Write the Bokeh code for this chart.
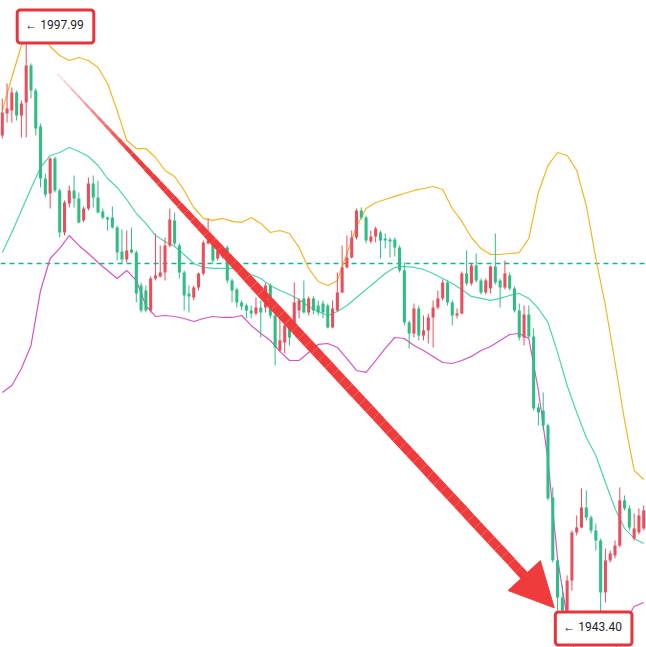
from bokeh.plotting import figure
from bokeh.models import Range1d, Label, Arrow, NormalHead, ColumnDataSource
from bokeh.embed import file_html
from bokeh.resources import INLINE

# ---------------- data ----------------
opens = [
    1988.14, 1990.13, 1990.40, 1992.03, 1989.95, 1991.12, 1994.47, 1992.21, 1988.95, 1984.25,
    1982.90, 1986.06, 1983.17, 1979.37, 1981.99, 1983.17, 1982.44, 1980.46, 1981.54, 1983.80,
    1982.54, 1981.27, 1980.73, 1980.73, 1979.82, 1977.65, 1976.93, 1977.84, 1977.56, 1974.58,
    1974.13, 1972.32, 1975.21, 1975.40, 1975.76, 1978.20, 1980.46, 1978.20, 1975.76, 1973.86,
    1973.50, 1974.40, 1975.67, 1978.38, 1978.47, 1977.02, 1977.20, 1978.02, 1975.03, 1974.22,
    1973.05, 1972.77, 1972.32, 1972.05, 1972.59, 1972.59, 1974.58, 1971.87, 1968.71, 1969.43,
    1971.24, 1970.79, 1972.32, 1973.41, 1972.14, 1973.41, 1972.77, 1972.95, 1972.77, 1970.79,
    1972.32, 1973.95, 1976.21, 1977.11, 1978.92, 1981.36, 1980.73, 1978.56, 1979.01, 1979.37,
    1978.83, 1978.74, 1978.74, 1978.02, 1975.94, 1971.24, 1970.24, 1972.50, 1970.06, 1970.52,
    1971.69, 1972.59, 1973.41, 1974.85, 1973.05, 1971.87, 1972.05, 1975.67, 1974.76, 1976.39,
    1975.03, 1973.95, 1974.31, 1976.30, 1975.03, 1974.40, 1975.49, 1974.31, 1972.32, 1969.88,
    1971.96, 1969.97, 1963.56, 1963.28, 1961.93, 1955.42, 1949.73, 1946.38, 1945.21, 1947.92,
    1952.26, 1952.71, 1954.52, 1953.61, 1952.44, 1951.53, 1946.84, 1949.73, 1950.18, 1951.08,
    1955.15, 1954.43, 1951.72, 1952.26, 1952.62,
]
highs = [
    1991.48, 1992.84, 1992.48, 1992.21, 1991.30, 1997.99, 1994.65, 1992.39, 1989.22, 1984.70,
    1986.15, 1986.24, 1983.35, 1982.26, 1983.62, 1984.52, 1982.99, 1981.72, 1984.34, 1984.52,
    1984.07, 1981.54, 1980.82, 1981.72, 1980.00, 1979.64, 1979.55, 1979.82, 1977.75, 1974.85,
    1974.58, 1975.40, 1979.28, 1978.20, 1978.92, 1981.54, 1981.18, 1978.38, 1975.94, 1974.58,
    1974.58, 1975.76, 1978.65, 1980.64, 1978.92, 1978.38, 1978.20, 1978.20, 1975.21, 1974.40,
    1973.23, 1972.95, 1972.77, 1973.50, 1973.23, 1974.76, 1974.76, 1972.05, 1971.60, 1971.60,
    1971.42, 1974.85, 1973.41, 1975.03, 1973.59, 1973.59, 1973.23, 1973.23, 1972.95, 1973.23,
    1975.76, 1978.20, 1979.10, 1979.55, 1981.54, 1981.63, 1980.91, 1979.55, 1979.91, 1979.55,
    1979.28, 1978.92, 1978.92, 1978.20, 1976.66, 1971.42, 1972.95, 1972.77, 1971.87, 1972.05,
    1973.23, 1974.13, 1975.12, 1975.03, 1973.23, 1972.50, 1975.85, 1977.75, 1976.57, 1977.47,
    1975.21, 1975.21, 1976.39, 1979.28, 1975.21, 1976.84, 1975.76, 1974.49, 1972.95, 1972.77,
    1972.77, 1970.70, 1963.92, 1964.91, 1962.11, 1956.33, 1949.91, 1947.47, 1948.37, 1952.44,
    1953.79, 1956.24, 1956.05, 1953.79, 1953.07, 1951.72, 1950.81, 1950.63, 1951.53, 1956.33,
    1955.60, 1954.70, 1953.98, 1954.43, 1954.70,
]
lows = [
    1987.87, 1989.31, 1989.31, 1989.49, 1987.96, 1987.96, 1991.48, 1988.14, 1983.44, 1982.54,
    1981.54, 1982.99, 1978.92, 1979.10, 1981.63, 1981.63, 1980.19, 1980.28, 1981.36, 1981.63,
    1981.09, 1980.55, 1979.55, 1979.73, 1976.84, 1976.57, 1976.66, 1977.47, 1973.05, 1972.14,
    1972.14, 1972.14, 1975.03, 1975.30, 1975.03, 1978.02, 1978.20, 1975.21, 1972.32, 1972.14,
    1973.23, 1974.13, 1975.49, 1978.29, 1976.57, 1976.84, 1977.02, 1974.76, 1973.05, 1972.59,
    1972.32, 1971.60, 1971.60, 1971.87, 1969.88, 1972.14, 1971.60, 1967.35, 1968.53, 1968.44,
    1969.16, 1970.52, 1971.60, 1972.05, 1971.87, 1971.96, 1971.87, 1971.60, 1970.70, 1970.70,
    1972.23, 1973.86, 1976.12, 1977.02, 1978.74, 1980.55, 1978.38, 1978.38, 1978.47, 1977.02,
    1977.93, 1977.11, 1977.20, 1975.76, 1970.97, 1968.89, 1969.88, 1969.61, 1969.61, 1969.34,
    1968.98, 1972.41, 1973.23, 1972.77, 1970.97, 1971.60, 1971.96, 1974.58, 1974.58, 1974.85,
    1973.77, 1973.77, 1973.86, 1974.67, 1972.59, 1974.22, 1974.13, 1972.14, 1969.61, 1969.16,
    1969.79, 1963.28, 1961.93, 1961.48, 1955.15, 1949.55, 1945.21, 1943.40, 1944.76, 1947.02,
    1951.99, 1952.62, 1953.34, 1952.17, 1950.63, 1945.03, 1945.93, 1949.55, 1949.91, 1950.90,
    1954.25, 1952.44, 1951.53, 1952.08, 1952.44,
]
closes = [
    1990.22, 1990.58, 1992.03, 1989.95, 1991.03, 1994.47, 1992.21, 1988.77, 1984.25, 1982.81,
    1986.06, 1983.17, 1979.37, 1982.08, 1983.17, 1982.44, 1980.28, 1981.54, 1983.80, 1982.54,
    1981.18, 1980.73, 1980.55, 1979.82, 1977.56, 1976.93, 1977.75, 1977.56, 1973.86, 1972.32,
    1972.32, 1975.21, 1975.49, 1975.76, 1978.20, 1980.55, 1978.38, 1975.76, 1973.68, 1973.59,
    1974.40, 1975.67, 1978.47, 1978.65, 1976.84, 1977.75, 1977.75, 1975.03, 1974.13, 1973.05,
    1972.68, 1972.32, 1972.05, 1972.59, 1972.14, 1974.58, 1971.87, 1968.98, 1969.61, 1970.97,
    1969.88, 1973.05, 1973.23, 1972.14, 1973.41, 1972.32, 1972.14, 1972.14, 1970.79, 1972.50,
    1973.95, 1976.21, 1977.11, 1978.92, 1981.36, 1980.73, 1978.65, 1979.01, 1979.73, 1978.65,
    1978.65, 1978.56, 1978.02, 1975.94, 1971.24, 1970.24, 1972.50, 1970.06, 1970.52, 1971.69,
    1972.59, 1973.41, 1974.85, 1973.05, 1971.87, 1972.05, 1975.67, 1974.76, 1976.39, 1975.03,
    1973.95, 1975.03, 1976.30, 1974.85, 1974.40, 1975.67, 1974.31, 1972.32, 1969.88, 1971.96,
    1969.97, 1963.47, 1963.10, 1961.93, 1955.33, 1949.73, 1946.38, 1945.21, 1947.92, 1952.26,
    1952.71, 1954.52, 1953.61, 1952.44, 1951.53, 1946.84, 1949.73, 1950.36, 1951.08, 1955.15,
    1954.43, 1952.71, 1952.62, 1953.79, 1954.25,
]

# Bollinger band values read every second candle
band_idx = list(range(0, 135, 2))
boll_upper = [
    1990.40, 1993.38, 1996.27, 1998.62, 1997.63, 1996.18, 1995.37, 1994.92, 1995.19, 1994.92,
    1994.29, 1992.84, 1990.40, 1987.69, 1986.96, 1986.96, 1986.15, 1984.98, 1984.43, 1983.17,
    1981.63, 1980.64, 1980.46, 1980.64, 1980.37, 1980.28, 1980.73, 1980.19, 1979.37, 1979.55,
    1979.28, 1978.02, 1976.12, 1974.94, 1974.58, 1975.03, 1977.47, 1979.91, 1981.54, 1982.08,
    1982.35, 1982.63, 1982.90, 1983.17, 1983.35, 1983.53, 1983.26, 1981.54, 1980.37, 1978.92,
    1977.93, 1977.38, 1977.38, 1977.47, 1977.56, 1978.83, 1982.99, 1985.43, 1986.60, 1986.33,
    1984.98, 1981.81, 1977.02, 1972.77, 1967.62, 1962.38, 1957.86, 1957.05,
]
boll_mid = [
    1977.56, 1979.37, 1981.36, 1983.35, 1985.25, 1986.33, 1986.60, 1987.05, 1986.69, 1986.24,
    1985.43, 1984.25, 1983.44, 1982.35, 1981.09, 1980.19, 1979.10, 1978.56, 1978.11, 1977.38,
    1976.57, 1976.21, 1976.12, 1976.12, 1976.12, 1975.94, 1975.58, 1975.21, 1974.58, 1974.13,
    1973.77, 1973.32, 1972.68, 1972.23, 1971.87, 1972.23, 1972.77, 1973.50, 1974.22, 1974.94,
    1975.67, 1976.21, 1976.30, 1976.21, 1976.03, 1975.67, 1975.21, 1974.76, 1974.22, 1973.59,
    1973.41, 1973.23, 1973.41, 1973.68, 1973.86, 1973.41, 1972.50, 1971.24, 1968.53, 1965.54,
    1963.10, 1960.84, 1959.22, 1956.78, 1954.43, 1952.62, 1951.72, 1951.26,
]
boll_lower = [
    1964.91, 1965.54, 1967.08, 1969.16, 1974.13, 1977.02, 1977.93, 1979.10, 1978.20, 1977.47,
    1976.66, 1975.94, 1975.21, 1975.94, 1975.03, 1972.77, 1971.78, 1971.87, 1971.78, 1971.60,
    1971.33, 1971.60, 1971.78, 1971.69, 1971.69, 1971.87, 1970.97, 1970.24, 1969.61, 1968.62,
    1967.80, 1967.80, 1968.53, 1969.25, 1969.34, 1968.98, 1967.98, 1966.90, 1966.72, 1967.80,
    1968.89, 1969.88, 1969.79, 1969.16, 1968.71, 1968.17, 1967.62, 1967.53, 1967.80, 1968.17,
    1968.71, 1969.07, 1969.61, 1970.15, 1970.24, 1969.79, 1965.09, 1958.77, 1949.91, 1944.49,
    1940.69, 1938.88, 1938.88, 1939.97, 1941.59, 1944.12, 1945.57, 1945.93,
]

ref_level = [1976.57]         # dashed horizontal line
high_mark = (5, 1997.99)      # candle index, price
low_mark = (117, 1943.40)
arrow_from = (11.5, 1993.74)  # annotation arrow start (index, price)
arrow_to = (115.3, 1945.45)   # annotation arrow tip

# ---------------- styling ----------------
UP = "#EB4D5C"
DOWN = "#2EBD85"
C_UPPER = "#F4B526"
C_MID = "#4ED3B2"
C_LOWER = "#D655C6"
ARROW_RED = "#EF3B3B"

p = figure(width=646, height=647,
           x_range=Range1d(-0.37, 134.58), y_range=Range1d(1941.86, 2000.34),
           output_backend="svg", toolbar_location=None,
           x_axis_location=None, y_axis_location=None,
           min_border=0, min_border_left=0, min_border_right=0,
           min_border_top=0, min_border_bottom=0)
p.grid.visible = False
p.outline_line_color = None
p.background_fill_color = "white"

p.hspan(y=ref_level, line_color="#12B391", line_dash="5 4", line_width=1.4)

p.line(band_idx, boll_upper, line_color=C_UPPER, line_width=1.2)
p.line(band_idx, boll_mid, line_color=C_MID, line_width=1.2)
p.line(band_idx, boll_lower, line_color=C_LOWER, line_width=1.2)

idx = list(range(len(opens)))
colors = [UP if c >= o else DOWN for o, c in zip(opens, closes)]
src = ColumnDataSource(dict(
    x=idx, h=highs, l=lows,
    top=[max(o, c) for o, c in zip(opens, closes)],
    bottom=[min(o, c) for o, c in zip(opens, closes)],
    color=colors))
p.segment(x0="x", y0="h", x1="x", y1="l", line_color="color", line_width=1, source=src)
p.vbar(x="x", width=0.64, top="top", bottom="bottom", fill_color="color",
       line_color=None, source=src)

# tapered / fading arrow shaft
n = 70
x0s, y0s, x1s, y1s, ws, als = [], [], [], [], [], []
ax0, ay0 = arrow_from
ax1, ay1 = arrow_to
tend = 0.955
for k in range(n):
    t0 = tend * k / n
    t1 = tend * (k + 1) / n
    x0s.append(ax0 + (ax1 - ax0) * t0)
    y0s.append(ay0 + (ay1 - ay0) * t0)
    x1s.append(ax0 + (ax1 - ax0) * t1)
    y1s.append(ay0 + (ay1 - ay0) * t1)
    tm = (t0 + t1) / 2
    ws.append(1 + 8.5 * min(tm / 0.4, 1.0))
    als.append(0.2 + 0.8 * min(tm / 0.15, 1.0))
p.segment(x0=x0s, y0=y0s, x1=x1s, y1=y1s, line_color=ARROW_RED,
          line_width=ws, line_alpha=als, line_cap="butt")
p.add_layout(Arrow(end=NormalHead(size=44, fill_color=ARROW_RED, line_color=ARROW_RED,
                                  line_width=1),
                   x_start=ax0, y_start=ay0, x_end=ax1, y_end=ay1,
                   line_alpha=0, line_width=1))

for (mx, my), xo, yo in [(high_mark, -9, 0), (low_mark, -7, 2)]:
    p.add_layout(Label(x=mx, y=my, text="\u2190 %.2f" % my, x_offset=xo, y_offset=yo,
                       text_align="left", text_baseline="middle",
                       text_font="Roboto", text_font_size="12px", text_color="#1E2329",
                       background_fill_color="white",
                       border_line_color="#E8333B", border_line_width=3,
                       border_radius=3, padding=(8, 10, 8, 11)))

open("out.html", "w").write(file_html(p, INLINE))
